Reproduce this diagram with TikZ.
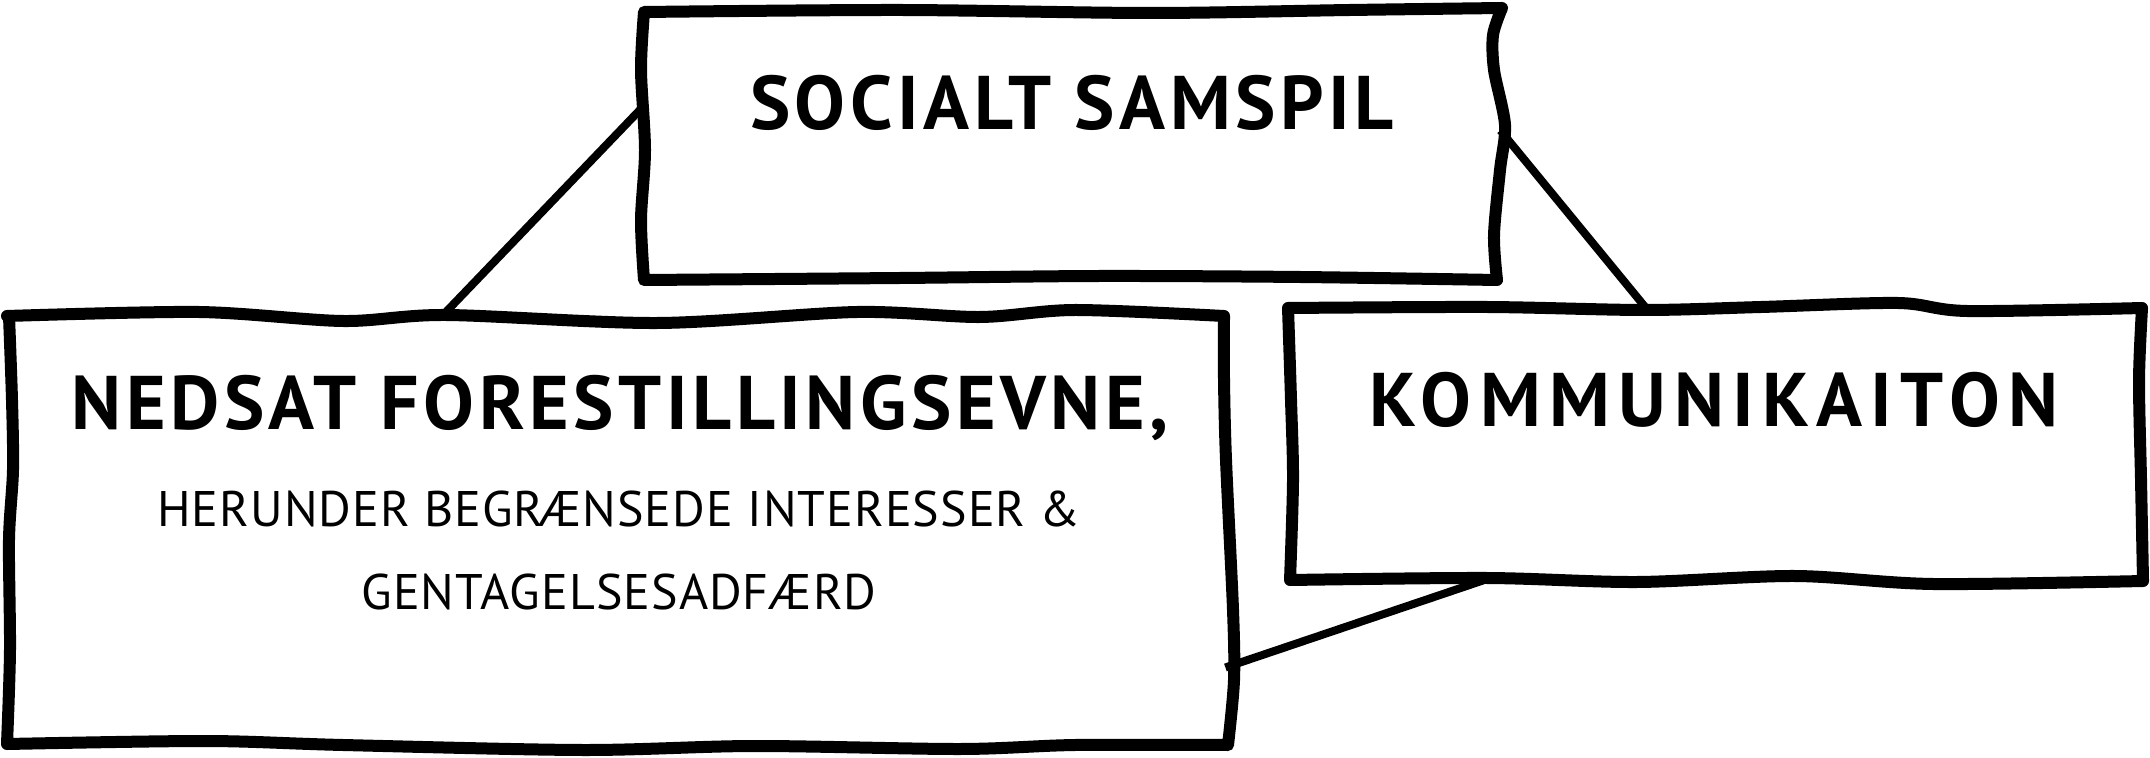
\documentclass[tikz,border=0pt]{standalone}
\usepackage{fontspec}
\setmainfont{PT Sans}
\newfontfamily\handfont{PT Sans Bold}[LetterSpace=6]
\newfontfamily\handwide{PT Sans Bold}[LetterSpace=11]
\newfontfamily\handsmall{PT Sans}[LetterSpace=2]
\usetikzlibrary{positioning,calc}

\tikzset{
  outline/.style={line width=6pt,line join=round,line cap=round},
  link/.style={line width=4pt},
  boxnode/.style={inner sep=0pt},
  bigtxt/.style={font=\handfont\fontsize{38}{44}\selectfont,anchor=base,inner sep=0pt},
  widetxt/.style={bigtxt,font=\handwide\fontsize{38}{44}\selectfont},
  smalltxt/.style={font=\handsmall\fontsize{25}{30}\selectfont,anchor=base,inner sep=0pt},
}

\begin{document}
\begin{tikzpicture}[x=.5pt,y=-.5pt]
  \useasboundingbox (0,0) rectangle (2150,758);
  % kasserne
  \node[boxnode,minimum width=428pt,minimum height=135pt] (social) at (1072,144) {};
  \node[boxnode,minimum width=609pt,minimum height=216pt] (nedsat) at (616,529) {};
  \node[boxnode,minimum width=427pt,minimum height=136pt] (kommun) at (1714,444) {};
  % haandtegnede kanter
  \draw[outline] plot[smooth] coordinates {(644,12) (900,10) (1150,13) (1350,10) (1502,8)}
    -- plot[smooth] coordinates {(1502,8) (1493,35) (1494,70) (1505,125) (1500,170) (1494,235) (1497,280)}
    -- plot[smooth] coordinates {(1497,280) (1300,277) (1100,276) (900,278) (644,280)}
    -- plot[smooth] coordinates {(644,280) (641,220) (645,150) (641,70) (644,12)} -- cycle;
  \draw[outline] plot[smooth] coordinates {(7,316) (199,312) (343,321) (446,315) (658,323) (857,312) (980,317) (1075,310) (1224,316)}
    -- plot[smooth] coordinates {(1224,316) (1224,380) (1226,460) (1233,610) (1234,680) (1228,745)}
    -- plot[smooth] coordinates {(1228,745) (1075,745) (960,749) (754,746) (583,750) (343,745) (206,741) (7,744)}
    -- plot[smooth] coordinates {(7,744) (10,650) (9,540) (13,470) (12,400) (9,316)} -- cycle;
  \draw[outline] plot[smooth] coordinates {(1288,308) (1487,307) (1644,310) (1761,307) (1898,303) (1967,311) (2142,308)}
    -- plot[smooth] coordinates {(2142,308) (2139,380) (2141,480) (2143,581)}
    -- plot[smooth] coordinates {(2143,581) (1933,584) (1795,576) (1637,582) (1487,578) (1290,580)}
    -- plot[smooth] coordinates {(1290,580) (1293,480) (1291,400) (1288,308)} -- cycle;
  % tekster
  \node[bigtxt] (socialtxt) at (1072,130) {SOCIALT SAMSPIL};
  \node[bigtxt] (nedsattxt) at (620,430) {NEDSAT FORESTILLINGSEVNE,};
  \node[smalltxt] (herunder) at (619,526) {HERUNDER BEGRÆNSEDE INTERESSER \&};
  \node[smalltxt] (gentag) at (619,609) {GENTAGELSESADFÆRD};
  \node[widetxt] (kommuntxt) at (1714,427) {KOMMUNIKAITON};
  % forbindelser
  \draw[link] ($(social.north west)!.36!(social.south west)$) -- ($(nedsat.north west)!.36!(nedsat.north east)$);
  \draw[link] ($(social.north east)!.45!(social.south east)$) -- ($(kommun.north west)!.42!(kommun.north east)$);
  \draw[link] ($(kommun.south west)!.23!(kommun.south east)$) -- ($(nedsat.north east)!.82!(nedsat.south east)$);
\end{tikzpicture}
\end{document}
